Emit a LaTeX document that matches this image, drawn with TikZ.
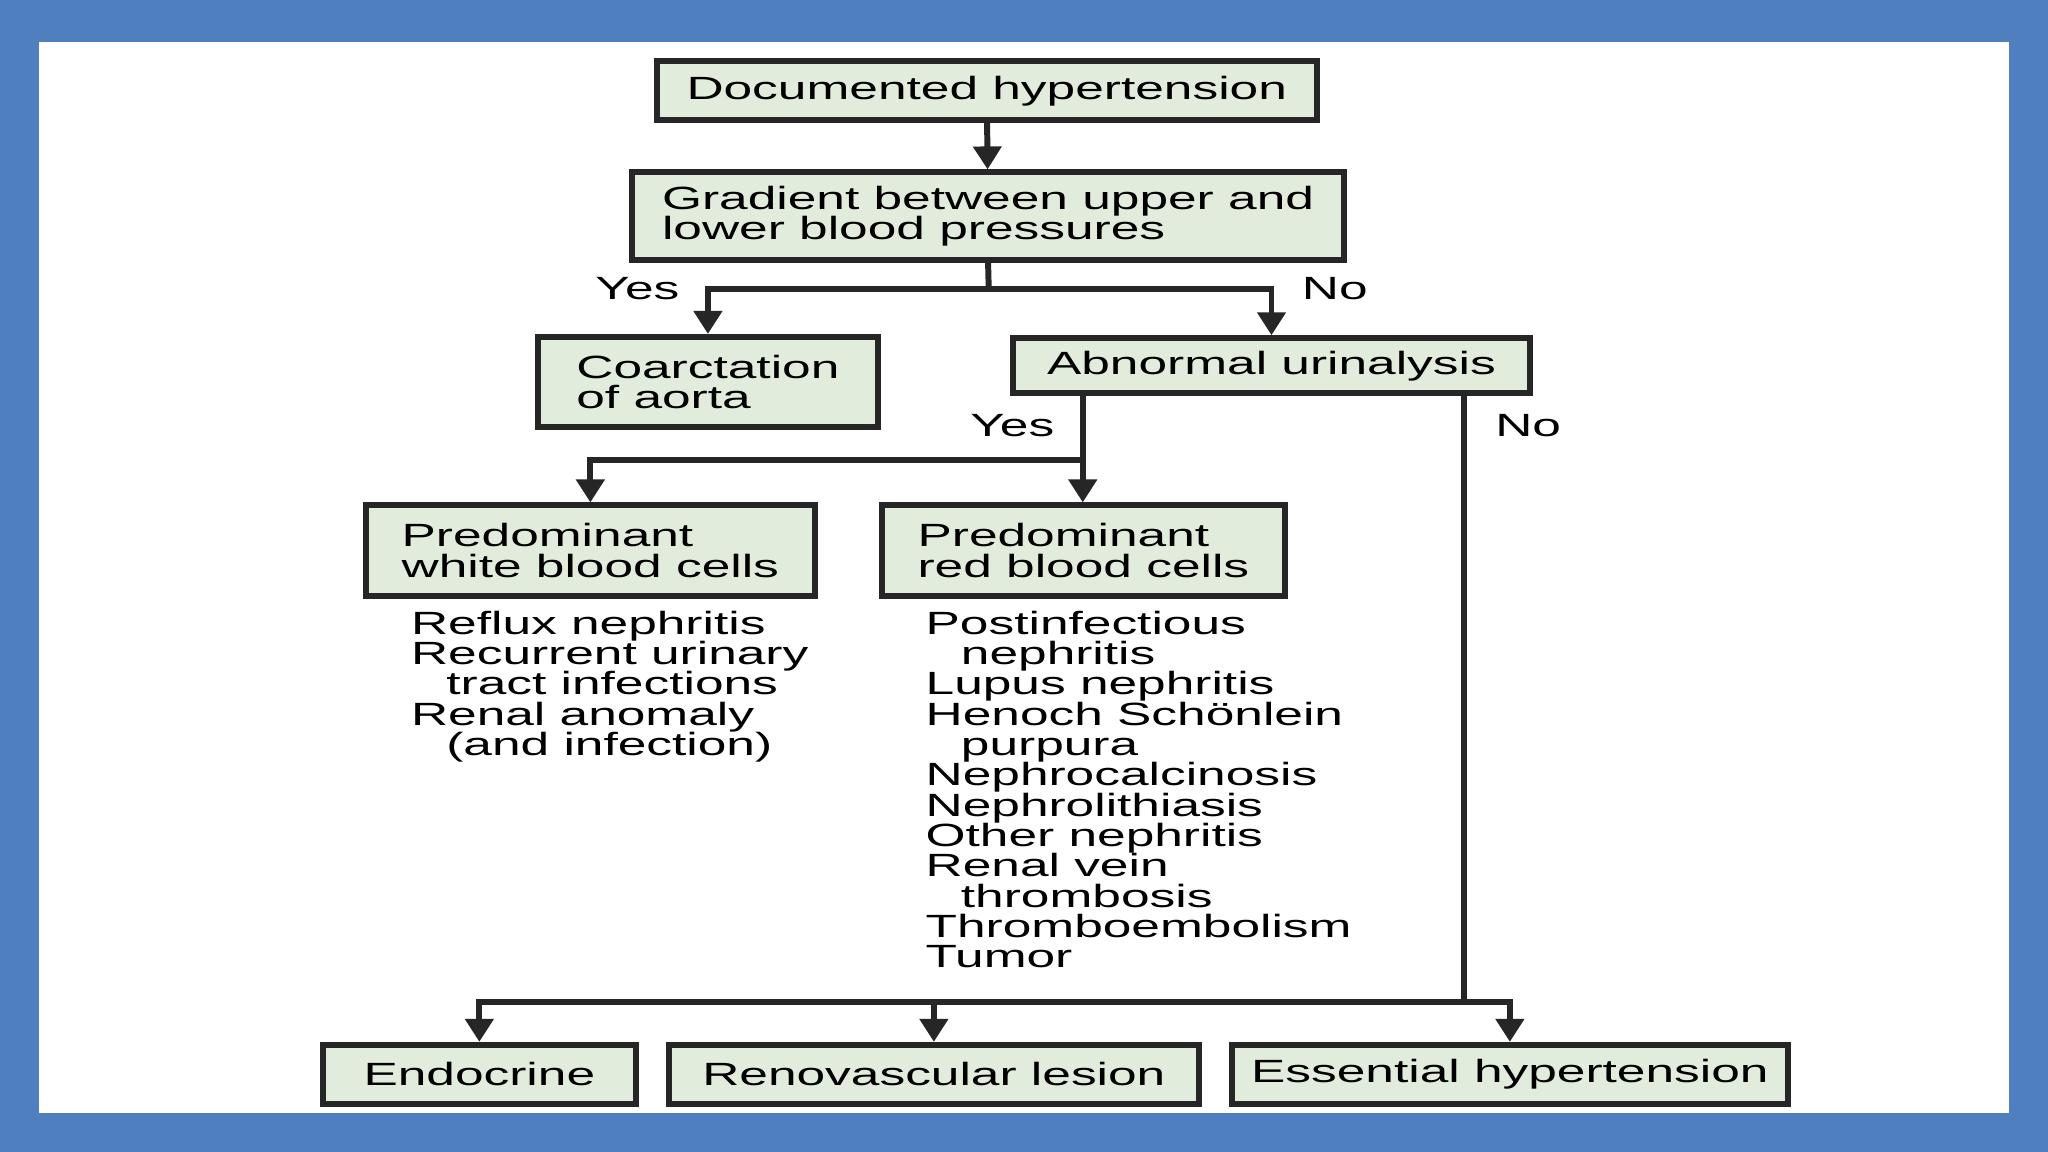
\documentclass[tikz,border=0pt]{standalone}
\usepackage{fontspec}
\setmainfont{Liberation Sans}[FakeStretch=1.6]
\usetikzlibrary{arrows.meta}
\definecolor{frame}{HTML}{4F7FBF}
\definecolor{boxfill}{HTML}{E2ECDC}
\tikzset{
 box/.style={draw=black!85,line width=1.3pt,fill=boxfill,inner sep=0pt,align=left,font=\fontsize{7}{6.6}\selectfont},
 con/.style={line width=1.3pt,draw=black!85},
 arr/.style={con,-{Triangle[width=6pt,length=5pt]}},
 lab/.style={font=\fontsize{7}{6.6}\selectfont,inner sep=0pt},
 lst/.style={font=\fontsize{7}{6.6}\selectfont,inner sep=0pt,anchor=north west,align=left}
}
\begin{document}
\begin{tikzpicture}[x=0.01cm,y=-0.01cm]
\fill[frame] (0,0) rectangle (1568,882);
\fill[white] (30,32) rectangle (1538,852);
\node[box,minimum width=5.05cm,minimum height=0.45cm] (doc) at (755.5,69.5) {Documented hypertension};
\node[box,minimum width=5.45cm,minimum height=0.67cm] (grad) at (756.5,165.5) {Gradient between upper and\\lower blood pressures};
\node[box,minimum width=2.6cm,minimum height=0.69cm] (coa) at (542,292.5) {Coarctation\\of aorta};
\node[box,minimum width=3.95cm,minimum height=0.42cm] (abn) at (973.5,280) {Abnormal urinalysis};
\node[box,minimum width=3.44cm,minimum height=0.69cm] (wbc) at (452,421.5) {Predominant\\white blood cells};
\node[box,minimum width=3.09cm,minimum height=0.69cm] (rbc) at (829.5,421.5) {Predominant\\red blood cells};
\node[box,minimum width=2.4cm,minimum height=0.45cm] (endo) at (367,822.5) {Endocrine};
\node[box,minimum width=4.06cm,minimum height=0.45cm] (reno) at (715,822.5) {Renovascular lesion};
\node[box,minimum width=4.26cm,minimum height=0.45cm] (ess) at (1156,822.5) {Essential hypertension};
\coordinate (j1) at (757,221);
\coordinate (j2) at (829,352);
\coordinate (j3) at (1121,767);
\draw[arr] (doc) -- (grad);
\draw[con] (grad.south) -- (j1);
\draw[arr] (j1) -| (coa.north);
\draw[arr] (j1) -| (abn.north);
\draw[arr] (abn.south -| j2) -- (rbc.north -| j2);
\draw[arr] (j2) -| (wbc.north);
\draw[con] (abn.south -| j3) -- (j3);
\draw[arr] (j3) -| (endo.north);
\draw[arr] (j3) -| (reno.north);
\draw[arr] (j3) -| (ess.north);
\node[lab] (y1) at (488,221) {Yes};
\node[lab] (n1) at (1022,221) {No};
\node[lab] (y2) at (775,326) {Yes};
\node[lab] (n2) at (1170,326) {No};
\node[lst] (l1) at (314,467) {Reflux nephritis\\Recurrent urinary\\\hspace{0.27cm}tract infections\\Renal anomaly\\\hspace{0.27cm}(and infection)};
\node[lst] (l2) at (708,467) {Postinfectious\\\hspace{0.27cm}nephritis\\Lupus nephritis\\Henoch Schönlein\\\hspace{0.27cm}purpura\\Nephrocalcinosis\\Nephrolithiasis\\Other nephritis\\Renal vein\\\hspace{0.27cm}thrombosis\\Thromboembolism\\Tumor};
\end{tikzpicture}
\end{document}
